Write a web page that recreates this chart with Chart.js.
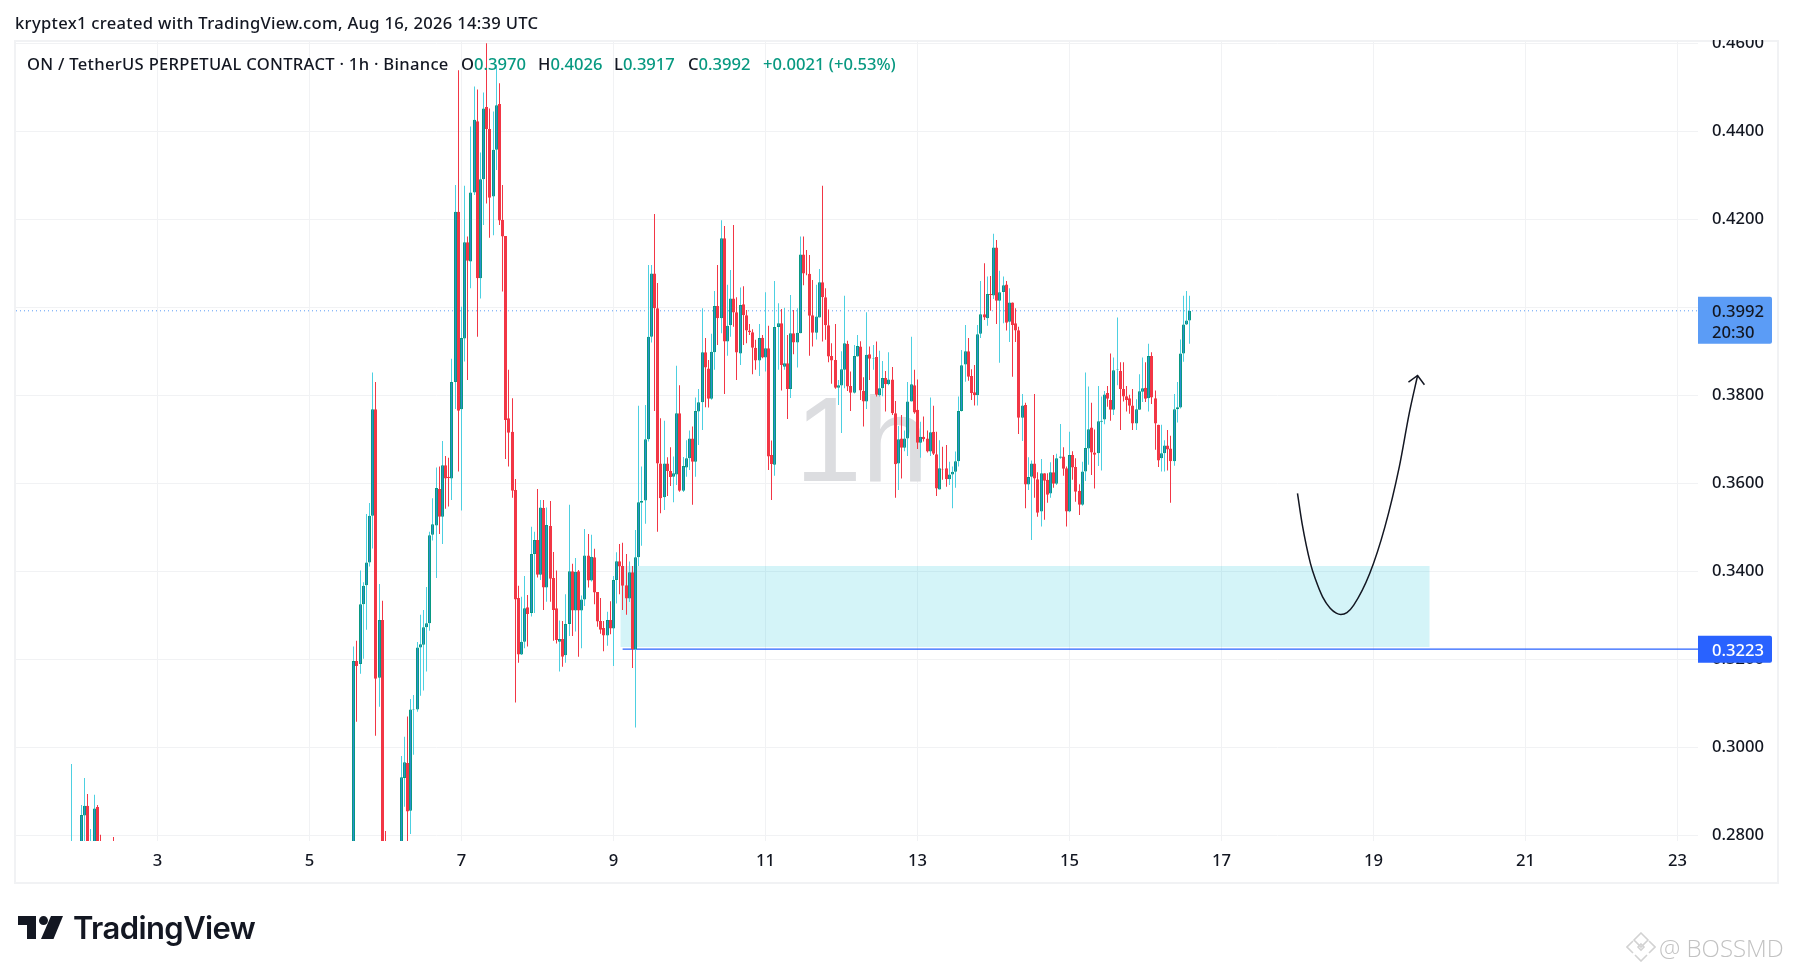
<!DOCTYPE html>
<html>
<head>
<meta charset="utf-8">
<title>ON / TetherUS</title>
<script src="https://cdn.jsdelivr.net/npm/chart.js@4/dist/chart.umd.min.js"></script>
<style>
	html, body { margin: 0; padding: 0; background: #fff; }
	body { width: 1793px; height: 973px; position: relative; overflow: hidden; font-family: "Noto Sans", sans-serif; color: #131722; }
	canvas { position: absolute; left: 0; top: 0; }
	.txt { position: absolute; white-space: nowrap; font-size: 16.6px; font-weight: 500; line-height: 20px; }
	.wide { letter-spacing: 0.29px; }
	.val { color: #089981; }
	#logoText { position: absolute; left: 73px; top: 908px; font: 600 31px/40px Inter, sans-serif; letter-spacing: -0.6px; color: #131722; }
	#mark { position: absolute; left: 1659px; top: 930px; font: 300 24px/36px "Open Sans", sans-serif; color: #c2c2c2; white-space: nowrap; }
</style>
</head>
<body>
<canvas id="chart" width="1793" height="973"></canvas>

<div class="txt wide" style="left:15px;top:13px">kryptex1 created with TradingView.com, Aug 16, 2026 14:39 UTC</div>
<div class="txt wide" style="left:27px;top:54px">ON / TetherUS PERPETUAL CONTRACT · 1h · Binance</div>
<div class="txt" style="left:461px;top:54px">O<span class="val">0.3970</span></div>
<div class="txt" style="left:538px;top:54px">H<span class="val">0.4026</span></div>
<div class="txt" style="left:614px;top:54px">L<span class="val">0.3917</span></div>
<div class="txt" style="left:688px;top:54px">C<span class="val">0.3992</span></div>
<div class="txt val" style="left:763px;top:54px">+0.0021 (+0.53%)</div>

<svg style="position:absolute;left:18px;top:916px" width="46" height="23" viewBox="0 0 46 23">
	<path fill="#131722" d="M0 0H18V23H9V9H0Z"/>
	<circle fill="#131722" cx="25.5" cy="4.6" r="4.5"/>
	<path fill="#131722" d="M33 0H45L35.5 23H23Z"/>
</svg>
<div id="logoText">TradingView</div>

<svg style="position:absolute;left:1626px;top:932px" width="30" height="30" viewBox="0 0 30 30" fill="none" stroke="#d2d2d2" stroke-width="1.6">
	<path d="M15 1L22 8L15 15L8 8Z"/>
	<path d="M7 9L1 15L7 21M23 9L29 15L23 21M9 23L15 29L21 23"/>
	<path d="M15 12L18 15L15 18L12 15Z"/>
</svg>
<div id="mark">@ BOSSMD</div>

<script>
// hourly candles, hour 0 = 00:00 on day 0 of the time axis
const hourRuns = [[45, 45], [48, 54], [58, 58], [134, 144], [149, 398]];

const opens = [
	0.2755,0.2765,0.2845,0.2867,0.2760,0.2770,0.2864,0.2770,0.2770,
	0.2700,0.3196,0.3189,0.3325,0.3368,0.3420,0.3526,0.3768,0.3158,0.3289,0.2760,
	0.2750,0.2930,0.2964,0.2856,0.3085,0.3086,0.3227,0.3233,0.3273,0.3282,
	0.3483,0.3504,0.3587,0.3524,0.3641,0.3615,0.3611,0.3830,0.4217,0.3768,
	0.3929,0.4148,0.4104,0.4261,0.4423,0.4066,0.4291,0.4455,0.4405,0.4252,
	0.4358,0.4462,0.4199,0.4162,0.3748,0.3717,0.3585,0.3339,0.3211,0.3240,
	0.3318,0.3305,0.3439,0.3471,0.3392,0.3544,0.3363,0.3503,0.3385,0.3316,
	0.3240,0.3246,0.3209,0.3280,0.3400,0.3311,0.3400,0.3311,0.3336,0.3436,
	0.3379,0.3432,0.3353,0.3287,0.3271,0.3254,0.3289,0.3270,0.3380,0.3423,
	0.3412,0.3368,0.3338,0.3398,0.3223,0.3432,0.3556,0.3561,0.3700,0.3933,
	0.4077,0.3998,0.3645,0.3568,0.3645,0.3628,0.3615,0.3620,0.3759,0.3583,
	0.3636,0.3657,0.3702,0.3649,0.3763,0.3784,0.3898,0.3861,0.3792,0.3898,
	0.4003,0.3975,0.4157,0.3922,0.3959,0.4020,0.3989,0.3895,0.4007,0.3982,
	0.3947,0.3943,0.3908,0.3879,0.3931,0.3886,0.3907,0.3664,0.3642,0.3955,
	0.3964,0.3865,0.3873,0.3814,0.3941,0.3920,0.3941,0.4120,0.4077,0.4076,
	0.3982,0.3942,0.3977,0.4057,0.4023,0.3959,0.3889,0.3880,0.3817,0.3822,
	0.3858,0.3917,0.3821,0.3806,0.3888,0.3911,0.3810,0.3786,0.3893,0.3883,
	0.3887,0.3800,0.3816,0.3839,0.3825,0.3836,0.3759,0.3645,0.3702,0.3681,
	0.3702,0.3786,0.3823,0.3767,0.3692,0.3706,0.3702,0.3672,0.3717,0.3666,
	0.3586,0.3632,0.3634,0.3609,0.3620,0.3626,0.3650,0.3764,0.3870,0.3900,
	0.3844,0.3807,0.3800,0.3940,0.3984,0.3975,0.4030,0.4027,0.4136,0.4015,
	0.4035,0.4052,0.3967,0.4011,0.3964,0.3948,0.3749,0.3778,0.3597,0.3615,
	0.3645,0.3609,0.3536,0.3623,0.3608,0.3577,0.3625,0.3599,0.3658,0.3661,
	0.3634,0.3536,0.3664,0.3637,0.3583,0.3551,0.3627,0.3679,0.3727,0.3670,
	0.3668,0.3740,0.3745,0.3805,0.3789,0.3767,0.3858,0.3855,0.3814,0.3798,
	0.3793,0.3777,0.3736,0.3767,0.3808,0.3817,0.3793,0.3889,0.3793,0.3733,
	0.3657,0.3668,0.3686,0.3679,0.3650,0.3768,0.3772,0.3895,0.3961,0.3970
];
const closes = [
	0.2770,0.2846,0.2867,0.2770,0.2775,0.2861,0.2770,0.2760,0.2760,
	0.3196,0.3185,0.3325,0.3367,0.3420,0.3526,0.3768,0.3156,0.3289,0.2750,0.2750,
	0.2932,0.2966,0.2854,0.3086,0.3086,0.3227,0.3234,0.3273,0.3282,0.3482,
	0.3507,0.3589,0.3524,0.3641,0.3611,0.3612,0.3830,0.4217,0.3765,0.3930,
	0.4148,0.4106,0.4261,0.4426,0.4066,0.4291,0.4452,0.4405,0.4249,0.4358,
	0.4459,0.4197,0.4161,0.3744,0.3715,0.3583,0.3336,0.3211,0.3240,0.3316,
	0.3303,0.3439,0.3471,0.3392,0.3545,0.3363,0.3505,0.3383,0.3312,0.3244,
	0.3246,0.3206,0.3280,0.3400,0.3311,0.3399,0.3311,0.3336,0.3436,0.3379,
	0.3433,0.3352,0.3286,0.3267,0.3254,0.3289,0.3270,0.3380,0.3423,0.3411,
	0.3367,0.3338,0.3398,0.3223,0.3432,0.3557,0.3560,0.3700,0.3933,0.4077,
	0.3998,0.3645,0.3566,0.3645,0.3628,0.3614,0.3623,0.3759,0.3583,0.3639,
	0.3657,0.3702,0.3649,0.3764,0.3784,0.3898,0.3863,0.3792,0.3899,0.4003,
	0.3975,0.4157,0.3922,0.3958,0.4020,0.3988,0.3897,0.4005,0.3982,0.3947,
	0.3943,0.3908,0.3879,0.3930,0.3886,0.3907,0.3661,0.3644,0.3955,0.3964,
	0.3869,0.3873,0.3814,0.3941,0.3920,0.3942,0.4120,0.4077,0.4076,0.3981,
	0.3942,0.3979,0.4057,0.4023,0.3959,0.3888,0.3879,0.3817,0.3823,0.3859,
	0.3918,0.3820,0.3806,0.3889,0.3912,0.3811,0.3786,0.3892,0.3883,0.3884,
	0.3801,0.3816,0.3839,0.3825,0.3836,0.3759,0.3643,0.3700,0.3681,0.3702,
	0.3786,0.3825,0.3761,0.3692,0.3706,0.3700,0.3672,0.3716,0.3667,0.3588,
	0.3634,0.3631,0.3609,0.3620,0.3626,0.3650,0.3764,0.3868,0.3900,0.3842,
	0.3805,0.3800,0.3939,0.3984,0.3977,0.4030,0.4028,0.4136,0.4015,0.4034,
	0.4050,0.3965,0.4011,0.3960,0.3947,0.3749,0.3777,0.3597,0.3614,0.3645,
	0.3611,0.3533,0.3623,0.3606,0.3574,0.3625,0.3599,0.3657,0.3661,0.3633,
	0.3536,0.3664,0.3636,0.3581,0.3551,0.3627,0.3680,0.3723,0.3670,0.3665,
	0.3741,0.3742,0.3802,0.3792,0.3767,0.3857,0.3859,0.3814,0.3797,0.3789,
	0.3776,0.3736,0.3768,0.3809,0.3816,0.3792,0.3889,0.3795,0.3736,0.3652,
	0.3668,0.3686,0.3677,0.3650,0.3768,0.3773,0.3895,0.3961,0.3970,0.3992
];
const highs = [
	0.2962,0.2869,0.2930,0.2894,0.2814,0.2892,0.2869,0.2801,0.2796,
	0.3229,0.3242,0.3402,0.3375,0.3530,0.3555,0.3852,0.3830,0.3371,0.3333,0.2810,
	0.2980,0.3024,0.3070,0.3110,0.3119,0.3239,0.3301,0.3312,0.3364,0.3490,
	0.3566,0.3636,0.3638,0.3696,0.3662,0.3658,0.3883,0.4278,0.4539,0.4001,
	0.4276,0.4161,0.4411,0.4502,0.4495,0.4352,0.4488,0.4600,0.4452,0.4445,
	0.4551,0.4509,0.4278,0.4162,0.3858,0.3793,0.3610,0.3367,0.3342,0.3389,
	0.3346,0.3501,0.3490,0.3587,0.3562,0.3562,0.3545,0.3560,0.3444,0.3402,
	0.3288,0.3287,0.3348,0.3551,0.3417,0.3430,0.3403,0.3345,0.3496,0.3485,
	0.3483,0.3451,0.3353,0.3339,0.3287,0.3308,0.3332,0.3389,0.3443,0.3462,
	0.3465,0.3439,0.3422,0.3412,0.3494,0.3776,0.3638,0.3778,0.4096,0.4096,
	0.4212,0.4055,0.3748,0.3742,0.3659,0.3682,0.3661,0.3867,0.3823,0.3660,
	0.3698,0.3720,0.3729,0.3795,0.3814,0.3998,0.3930,0.3880,0.3940,0.4037,
	0.4096,0.4198,0.4185,0.4051,0.4085,0.4187,0.4023,0.4045,0.4048,0.3994,
	0.3962,0.3950,0.3926,0.3962,0.3937,0.4034,0.3958,0.3697,0.4060,0.4009,
	0.3996,0.3999,0.3937,0.4028,0.3994,0.3998,0.4161,0.4161,0.4130,0.4119,
	0.4062,0.4051,0.4087,0.4276,0.4043,0.3995,0.3918,0.3962,0.3835,0.3900,
	0.4026,0.3924,0.3854,0.3914,0.3937,0.3923,0.3841,0.3989,0.3911,0.3914,
	0.3922,0.3901,0.3878,0.3855,0.3898,0.3864,0.3787,0.3730,0.3755,0.3720,
	0.3830,0.3933,0.3858,0.3836,0.3740,0.3752,0.3720,0.3795,0.3776,0.3717,
	0.3698,0.3683,0.3687,0.3649,0.3638,0.3672,0.3797,0.3903,0.3960,0.3930,
	0.3859,0.3869,0.3960,0.4060,0.4100,0.4070,0.4071,0.4167,0.4153,0.4083,
	0.4070,0.4060,0.4043,0.4011,0.3998,0.3956,0.3803,0.3783,0.3659,0.3652,
	0.3803,0.3625,0.3655,0.3623,0.3623,0.3648,0.3664,0.3667,0.3735,0.3682,
	0.3638,0.3717,0.3673,0.3657,0.3598,0.3649,0.3852,0.3820,0.3783,0.3722,
	0.3821,0.3797,0.3810,0.3821,0.3895,0.3886,0.3977,0.3875,0.3875,0.3821,
	0.3801,0.3814,0.3791,0.3848,0.3886,0.3875,0.3917,0.3898,0.3811,0.3733,
	0.3733,0.3698,0.3721,0.3708,0.3803,0.3830,0.3927,0.4026,0.4037,0.4026
];
const lows = [
	0.2745,0.2755,0.2770,0.2760,0.2750,0.2760,0.2760,0.2750,0.2750,
	0.2650,0.3058,0.3167,0.3201,0.3267,0.3411,0.3452,0.3026,0.3092,0.2720,0.2720,
	0.2730,0.2865,0.2760,0.2803,0.2983,0.3081,0.3117,0.3129,0.3172,0.3265,
	0.3470,0.3385,0.3485,0.3462,0.3542,0.3547,0.3562,0.3769,0.3627,0.3538,
	0.3877,0.3835,0.4043,0.4255,0.3933,0.4020,0.4187,0.4236,0.4158,0.4164,
	0.4312,0.4187,0.4036,0.3655,0.3638,0.3567,0.3102,0.3192,0.3210,0.3225,
	0.3229,0.3297,0.3305,0.3386,0.3380,0.3312,0.3331,0.3331,0.3242,0.3236,
	0.3172,0.3183,0.3192,0.3253,0.3253,0.3263,0.3206,0.3225,0.3321,0.3363,
	0.3377,0.3325,0.3274,0.3258,0.3218,0.3231,0.3257,0.3185,0.3327,0.3348,
	0.3312,0.3301,0.3330,0.3180,0.3045,0.3412,0.3458,0.3508,0.3695,0.3920,
	0.3764,0.3490,0.3532,0.3539,0.3571,0.3594,0.3557,0.3596,0.3581,0.3580,
	0.3615,0.3630,0.3551,0.3615,0.3687,0.3721,0.3773,0.3772,0.3790,0.3858,
	0.3914,0.3941,0.3803,0.3890,0.3933,0.3956,0.3835,0.3869,0.3914,0.3918,
	0.3937,0.3848,0.3858,0.3844,0.3884,0.3854,0.3630,0.3562,0.3617,0.3858,
	0.3811,0.3858,0.3746,0.3794,0.3893,0.3863,0.3941,0.4050,0.4073,0.3890,
	0.3911,0.3927,0.3977,0.3922,0.3926,0.3875,0.3826,0.3815,0.3778,0.3714,
	0.3816,0.3810,0.3764,0.3804,0.3888,0.3789,0.3729,0.3769,0.3835,0.3858,
	0.3797,0.3797,0.3798,0.3763,0.3823,0.3755,0.3567,0.3585,0.3611,0.3673,
	0.3662,0.3786,0.3758,0.3678,0.3658,0.3695,0.3670,0.3662,0.3664,0.3571,
	0.3586,0.3608,0.3592,0.3596,0.3543,0.3590,0.3638,0.3763,0.3831,0.3833,
	0.3789,0.3777,0.3777,0.3930,0.3971,0.3958,0.3992,0.4019,0.3962,0.3874,
	0.3964,0.3947,0.3921,0.3842,0.3921,0.3712,0.3696,0.3543,0.3585,0.3471,
	0.3567,0.3524,0.3502,0.3517,0.3556,0.3567,0.3590,0.3596,0.3656,0.3617,
	0.3502,0.3534,0.3608,0.3558,0.3528,0.3549,0.3605,0.3642,0.3619,0.3588,
	0.3639,0.3629,0.3734,0.3774,0.3742,0.3755,0.3823,0.3721,0.3786,0.3763,
	0.3758,0.3721,0.3721,0.3767,0.3785,0.3785,0.3763,0.3780,0.3676,0.3637,
	0.3627,0.3627,0.3629,0.3556,0.3640,0.3738,0.3770,0.3876,0.3960,0.3917
];

const dayTicks = [3, 5, 7, 9, 11, 13, 15, 17, 19, 21, 23];
const priceTicks = [0.28, 0.30, 0.32, 0.34, 0.36, 0.38, 0.40, 0.42, 0.44, 0.46];

const lastPrice = 0.3992;
const countdown = '20:30';
const supportPrice = 0.3223;
const zoneDays = [9.09, 19.74];
const zoneTop = 0.3412;
const zoneBottom = 0.3228;
const supportStart = 9.12;

// hand drawn arrow
const curveDays = [18.00, 18.06, 18.17, 18.24, 18.33, 18.43, 18.51, 18.57, 18.65, 18.74, 18.95, 19.15, 19.34, 19.47, 19.58];
const curvePrices = [0.3577, 0.3509, 0.3418, 0.3380, 0.3342, 0.3316, 0.3305, 0.3302, 0.3306, 0.3323, 0.3395, 0.3501, 0.3638, 0.3759, 0.3845];
const headDays = [19.46, 19.58, 19.67];
const headPrices = [0.3830, 0.3845, 0.3824];

const UP = '#089981', UP_FILL = '#2a90d0', UP_WICK = '#4dd0e1', DOWN = '#f23645';
const DAY_MIN = 1.1382, DAY_MAX = 23.2697;
const PRICE_MIN = 0.27870, PRICE_MAX = 0.46052;
const FONT = '"Noto Sans", sans-serif';
const WICKS = 3, BODIES = 4;	// dataset indexes

const hours = [];
hourRuns.forEach(r => {
	for (let h = r[0]; h <= r[1]; h++) hours.push(h);
});
const days = hours.map(h => h / 24);
const isUp = opens.map((o, i) => closes[i] >= o);

const chrome = {
	id: 'chrome',
	afterDatasetsUpdate(chart) {
		// snap candles to whole pixels so they stay crisp
		[WICKS, BODIES].forEach(d => {
			chart.getDatasetMeta(d).data.forEach(bar => {
				bar.x = Math.round(bar.x - 0.5) + 0.5;
			});
		});
	},
	beforeDraw(chart) {
		const c = chart.ctx;
		c.save();
		c.strokeStyle = '#f1f2f4';
		c.lineWidth = 2;
		c.strokeRect(15, 41, 1763, 842);
		c.restore();
	},
	beforeDatasetsDraw(chart) {
		// big interval watermark under the candles
		const c = chart.ctx;
		c.save();
		c.fillStyle = '#dcdde0';
		c.font = '120px "Liberation Sans"';
		c.textBaseline = 'alphabetic';
		c.fillText('1h', 795, 481);
		c.restore();
	},
	afterDraw(chart) {
		const c = chart.ctx, y = chart.scales.y, right = chart.chartArea.right;
		c.save();
		// price labels get cut at the pane edges
		c.fillStyle = '#fff';
		c.fillRect(right, 30, 78, 10);
		c.fillRect(right, chart.chartArea.bottom, 78, 8);

		let py = y.getPixelForValue(lastPrice);
		c.fillStyle = '#5b9cf6';
		c.beginPath();
		c.roundRect(right, py - 14, 74, 47, [0, 2, 2, 0]);
		c.fill();
		c.fillStyle = '#131722';
		c.font = '500 16.6px ' + FONT;
		c.textBaseline = 'middle';
		c.fillText(lastPrice.toFixed(4), 1712, py + 1);
		c.fillText(countdown, 1712, py + 22);

		py = y.getPixelForValue(supportPrice);
		c.fillStyle = '#2962ff';
		c.beginPath();
		c.roundRect(right, py - 13.5, 74, 27, [0, 2, 2, 0]);
		c.fill();
		c.fillStyle = '#fff';
		c.fillText(supportPrice.toFixed(4), 1712, py + 2);
		c.restore();
	}
};

const pair = (xs, ys) => xs.map((x, i) => ({x: x, y: ys[i]}));

new Chart(document.getElementById('chart'), {
	type: 'bar',
	data: {
		datasets: [
			{
				type: 'line', order: 6, data: pair(zoneDays, [zoneTop, zoneTop]),
				borderWidth: 0, pointRadius: 0, fill: {value: zoneBottom}, backgroundColor: 'rgba(38,198,218,0.2)'
			},
			{
				type: 'line', order: 5, data: pair([DAY_MIN, DAY_MAX], [lastPrice, lastPrice]),
				borderColor: '#5b9cf6', borderWidth: 1, borderDash: [1, 3], pointRadius: 0, fill: false
			},
			{
				type: 'line', order: 5, data: pair([supportStart, DAY_MAX], [supportPrice, supportPrice]),
				borderColor: '#2962ff', borderWidth: 1.2, pointRadius: 0, fill: false
			},
			{
				order: 4, grouped: false, barThickness: 1, inflateAmount: 0, borderWidth: 0,
				data: days.map((d, i) => ({x: d, y: [lows[i], highs[i]]})),
				backgroundColor: isUp.map(u => u ? UP_WICK : DOWN)
			},
			{
				order: 3, grouped: false, barThickness: 3, inflateAmount: 0, borderWidth: 1, borderSkipped: false,
				data: days.map((d, i) => ({x: d, y: [opens[i], closes[i]]})),
				backgroundColor: isUp.map(u => u ? UP_FILL : DOWN),
				borderColor: isUp.map(u => u ? UP : DOWN)
			},
			{
				type: 'line', order: 1, data: pair(curveDays, curvePrices),
				borderColor: '#131722', borderWidth: 1.5, pointRadius: 0, cubicInterpolationMode: 'monotone', fill: false
			},
			{
				type: 'line', order: 1, data: pair(headDays, headPrices),
				borderColor: '#131722', borderWidth: 1.5, pointRadius: 0, fill: false
			}
		]
	},
	options: {
		responsive: false,
		animation: false,
		devicePixelRatio: 1,
		layout: {padding: {left: 16, top: 41, right: 0, bottom: 0}},
		plugins: {legend: {display: false}, tooltip: {enabled: false}},
		scales: {
			x: {
				type: 'linear', offset: false, min: DAY_MIN, max: DAY_MAX,
				grid: {color: '#f1f2f4', offset: false, drawTicks: false},
				border: {display: false},
				afterBuildTicks: s => { s.ticks = dayTicks.map(v => ({value: v})); },
				afterFit: s => { s.height = 132; },
				ticks: {
					autoSkip: false, maxRotation: 0, padding: 10, color: '#131722',
					font: {family: FONT, size: 16.6, weight: 500},
					callback: v => String(v)
				}
			},
			y: {
				position: 'right', min: PRICE_MIN, max: PRICE_MAX,
				grid: {color: '#f1f2f4', drawTicks: false},
				border: {display: false},
				afterBuildTicks: s => { s.ticks = priceTicks.map(v => ({value: v})); },
				afterFit: s => { s.width = 95; },
				ticks: {
					padding: 14, color: '#131722',
					font: {family: FONT, size: 16.6, weight: 500},
					callback: v => v.toFixed(4)
				}
			}
		}
	},
	plugins: [chrome]
});
</script>
</body>
</html>
